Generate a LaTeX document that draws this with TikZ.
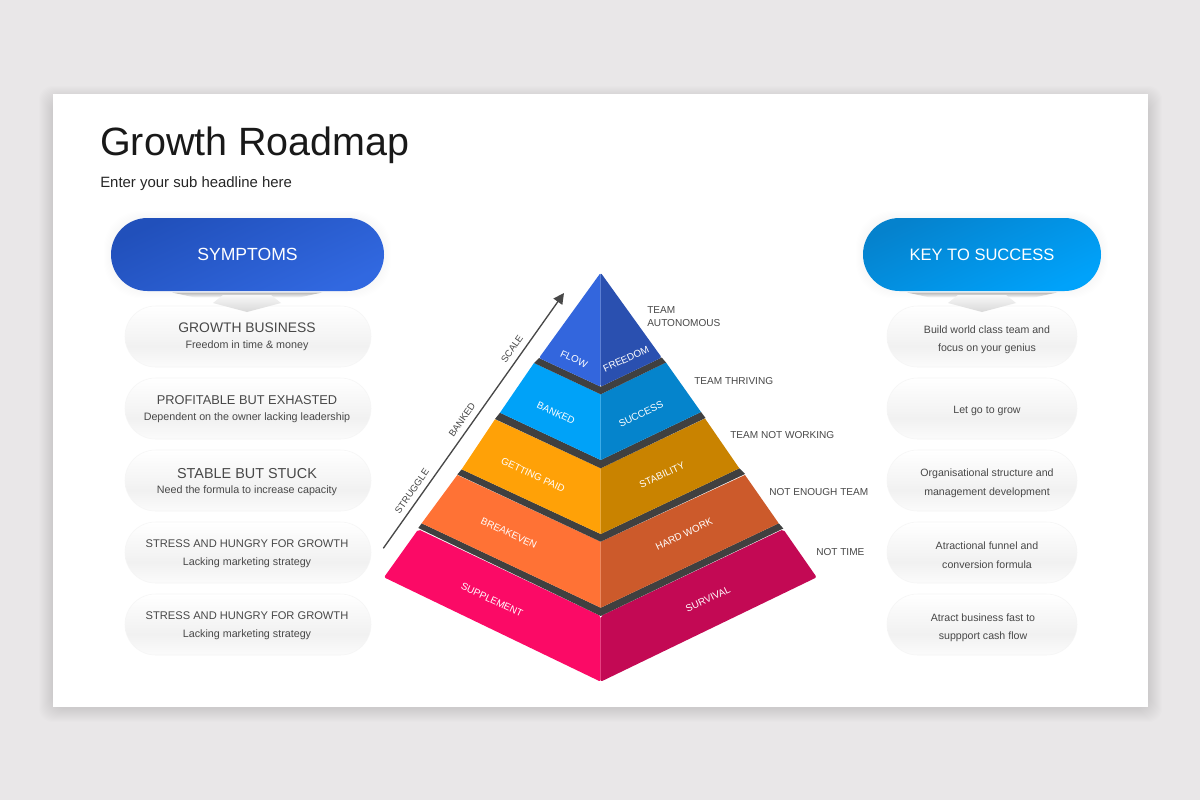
\documentclass[tikz,border=0pt]{standalone}
\usepackage{fontspec}
\setmainfont{Liberation Sans}
\usetikzlibrary{shapes.misc,arrows.meta}
\definecolor{bgc}{HTML}{E9E7E8}
\definecolor{ink}{HTML}{484848}
\definecolor{bandc}{HTML}{404040}
\definecolor{pa}{HTML}{FBFBFB}
\definecolor{pb}{HTML}{F1F1F1}
\definecolor{symA}{HTML}{2150BB}
\definecolor{symB}{HTML}{3168E0}
\definecolor{keyA}{HTML}{0582CD}
\definecolor{keyB}{HTML}{00A2FA}
\definecolor{fa}{HTML}{3366DD}\definecolor{fb}{HTML}{2A50B0}
\definecolor{ga}{HTML}{00A2F8}\definecolor{gb}{HTML}{0584CC}
\definecolor{ha}{HTML}{FFA107}\definecolor{hb}{HTML}{C98300}
\definecolor{ia}{HTML}{FF7235}\definecolor{ib}{HTML}{CC5A2B}
\definecolor{ja}{HTML}{FB0A66}\definecolor{jb}{HTML}{C30954}
\pgfdeclareverticalshading{pillshade}{100bp}{color(0bp)=(white);color(25bp)=(pa);color(42bp)=(pb);color(75bp)=(white);color(100bp)=(white)}
\newcommand{\fs}[1]{\fontsize{#1}{#1}\selectfont}
\tikzset{
  x=0.75pt,y=-0.75pt,
  pill/.style={rounded rectangle,draw=black!4,line width=0.4pt,shade,shading=pillshade,minimum height=45.75pt,inner sep=0pt},
  leftpill/.style={pill,minimum width=184.5pt},
  rightpill/.style={pill,minimum width=142.5pt},
  header/.style={rounded rectangle,minimum height=54.75pt,inner sep=0pt,text=white},
  lab/.style={inner sep=0pt,text=ink},
  head/.style={lab,yshift=-0.75pt,font=\fs{10.4}},
  sub/.style={lab,yshift=-0.75pt,font=\fs{8.05}},
  rtxt/.style={lab,yshift=-0.75pt,font=\fs{7.95}},
  side/.style={lab,anchor=west,font=\fs{7.55}},
  onface/.style={inner sep=0pt,text=white,font=\fs{7.4}},
  climb/.style={lab,rotate=55,font=\fs{7.1}},
  faceL/.style={rotate=-25},
  faceR/.style={rotate=25},
  bandf/.style={fill=bandc},
}
\begin{document}
\begin{tikzpicture}
\useasboundingbox (0,0) rectangle (1200,800);
\fill[bgc] (0,0) rectangle (1200,800);
% slide
\foreach \i in {1,...,14}{
  \fill[black,opacity=0.007,rounded corners=10pt] (53-\i,100-\i) rectangle (1148+\i,708+\i);
}
\fill[white] (53,94) rectangle (1148,707);
% title
\node[anchor=base west,inner sep=0pt,text=black!90,font=\fs{29.6}] (title) at (100,155) {Growth Roadmap};
\node[anchor=base west,inner sep=0pt,text=black!85,font=\fs{11.2}] (subtitle) at (100,187) {Enter your sub headline here};
% header glows
\foreach \i in {1,...,7}{
  \fill[black,opacity=0.004,rounded corners=27pt] (111-\i,218-\i) rectangle (384+\i,291+\i);
  \fill[black,opacity=0.004,rounded corners=27pt] (863-\i,218-\i) rectangle (1101+\i,291+\i);
}
% pills
\foreach \n/\yy in {a/336.5,b/408.5,c/480.5,d/552.5,e/624.5}{
  \node[leftpill] (L\n) at (248,\yy) {};
}
\foreach \n/\yy in {a/336.5,b/408.5,c/480.5,d/552.5,e/624.5}{
  \node[rightpill] (R\n) at (982,\yy) {};
}
% header arrows
\foreach \c in {247,982}{
  \shade[top color=black!28,bottom color=white] (\c-75,292.5) -- (\c+75,292.5) -- (\c+52,297.5) -- (\c-52,297.5) -- cycle;
  \shade[top color=black!3,bottom color=black!15] (\c-24,295) -- (\c+24,295) -- (\c+34,303) -- (\c,312) -- (\c-34,303) -- cycle;
}
% headers
\node[header,minimum width=204.75pt,top color=symA,bottom color=symB,shading angle=25,font=\fs{13.2}] (symptoms) at (247.5,254.5) {SYMPTOMS};
\node[header,minimum width=178.5pt,top color=keyA,bottom color=keyB,shading angle=25,font=\fs{12.4}] (keys) at (982,254.5) {KEY TO SUCCESS};
% left texts
\node[head] (t1) at (247,327) {GROWTH BUSINESS};
\node[sub] (s1) at (247,345) {Freedom in time \& money};
\node[head,font=\fs{9.6}] (t2) at (247,399) {PROFITABLE BUT EXHASTED};
\node[sub] (s2) at (247,417) {Dependent on the owner lacking leadership};
\node[head,font=\fs{10.8}] (t3) at (247,473) {STABLE BUT STUCK};
\node[sub] (s3) at (247,490) {Need the formula to increase capacity};
\node[head,font=\fs{8.35}] (t4) at (247,543) {STRESS AND HUNGRY FOR GROWTH};
\node[sub] (s4) at (247,562) {Lacking marketing strategy};
\node[head,font=\fs{8.35}] (t5) at (247,615) {STRESS AND HUNGRY FOR GROWTH};
\node[sub] (s5) at (247,634) {Lacking marketing strategy};
% right texts
\node[rtxt] (r1a) at (987,329) {Build world class team and};
\node[rtxt] (r1b) at (987,348) {focus on your genius};
\node[rtxt] (r2a) at (987,410) {Let go to grow};
\node[rtxt] (r3a) at (987,473) {Organisational structure and};
\node[rtxt] (r3b) at (987,492) {management development};
\node[rtxt] (r4a) at (987,545) {Atractional funnel and};
\node[rtxt] (r4b) at (987,564) {conversion formula};
\node[rtxt] (r5a) at (983,617) {Atract business fast to};
\node[rtxt] (r5b) at (983,636) {suppport cash flow};
% bottom tier
\fill[ja,rounded corners=1.5pt] (418.3,529.3) -- (384,577.3) -- (600.7,681.7) -- (600.7,616) -- cycle;
\fill[jb,rounded corners=1.5pt] (783.3,529.3) -- (816.7,577.3) -- (600.7,681.7) -- (600.7,616) -- cycle;
\fill[bandf] (421.7,523.3) -- (600.7,607.7) -- (778.7,523.3) -- (783.3,528.5) -- (600.7,616) -- (418.3,528) -- cycle;
% breakeven
\fill[ia] (457.3,475) -- (421.7,523.3) -- (600.7,607.7) -- (600.7,541.7) -- cycle;
\fill[ib] (745,475) -- (778.7,523.3) -- (600.7,607.7) -- (600.7,541.7) -- cycle;
\fill[bandf] (461.7,469.3) -- (600.7,534) -- (739.3,468.3) -- (745,474) -- (600.7,541.7) -- (457.3,474.5) -- cycle;
% getting paid
\fill[ha] (495,419.3) -- (461.7,469.3) -- (600.7,534) -- (600.7,468.3) -- cycle;
\fill[hb] (705,418.5) -- (739.3,468.3) -- (600.7,534) -- (600.7,468.3) -- cycle;
\fill[bandf] (500,412.7) -- (600.7,460) -- (701,412) -- (705.5,418) -- (600.7,468.3) -- (495,419) -- cycle;
% banked
\fill[ga] (534,363) -- (500,412.7) -- (600.7,460) -- (600.7,394.3) -- cycle;
\fill[gb] (666,362.5) -- (701,412) -- (600.7,460) -- (600.7,394.3) -- cycle;
\fill[bandf] (539,358) -- (600.7,386.7) -- (661.7,357.5) -- (666,362.5) -- (600.7,394.3) -- (534,363) -- cycle;
% flow
\fill[fa,rounded corners=1.5pt] (600.7,272.7) -- (539,358) -- (600.7,386.7) -- cycle;
\fill[fb,rounded corners=1.5pt] (600.7,272.7) -- (661.7,357.5) -- (600.7,386.7) -- cycle;
% face labels
\node[onface,faceL] (flow) at (574,359) {FLOW};
\node[onface,faceR] (freedom) at (626,359) {FREEDOM};
\node[onface,faceL] (banked) at (556,413) {BANKED};
\node[onface,faceR] (success) at (641,414) {SUCCESS};
\node[onface,faceL] (paid) at (533,475) {GETTING PAID};
\node[onface,faceR] (stability) at (662,475) {STABILITY};
\node[onface,faceL] (breakeven) at (509,533) {BREAKEVEN};
\node[onface,faceR] (hardwork) at (684,534) {HARD WORK};
\node[onface,faceL] (supplement) at (492,600) {SUPPLEMENT};
\node[onface,faceR] (survival) at (708,599) {SURVIVAL};
% side labels
\node[side] (s-a) at (647,310) {TEAM};
\node[side] (s-b) at (647,323) {AUTONOMOUS};
\node[side] (s-c) at (694,381) {TEAM THRIVING};
\node[side] (s-d) at (730,435) {TEAM NOT WORKING};
\node[side] (s-e) at (769,492) {NOT ENOUGH TEAM};
\node[side] (s-f) at (816,552) {NOT TIME};
% climb arrow
\coordinate (cs) at (383.3,548.3);
\coordinate (ce) at (564,293);
\draw[ink,line width=1pt,-{Triangle[length=8pt,width=8pt]}] (cs) -- (ce);
\node[climb] (scale) at (512,349) {SCALE};
\node[climb] (bank2) at (462,420) {BANKED};
\node[climb] (struggle) at (412,491) {STRUGGLE};
\end{tikzpicture}
\end{document}
